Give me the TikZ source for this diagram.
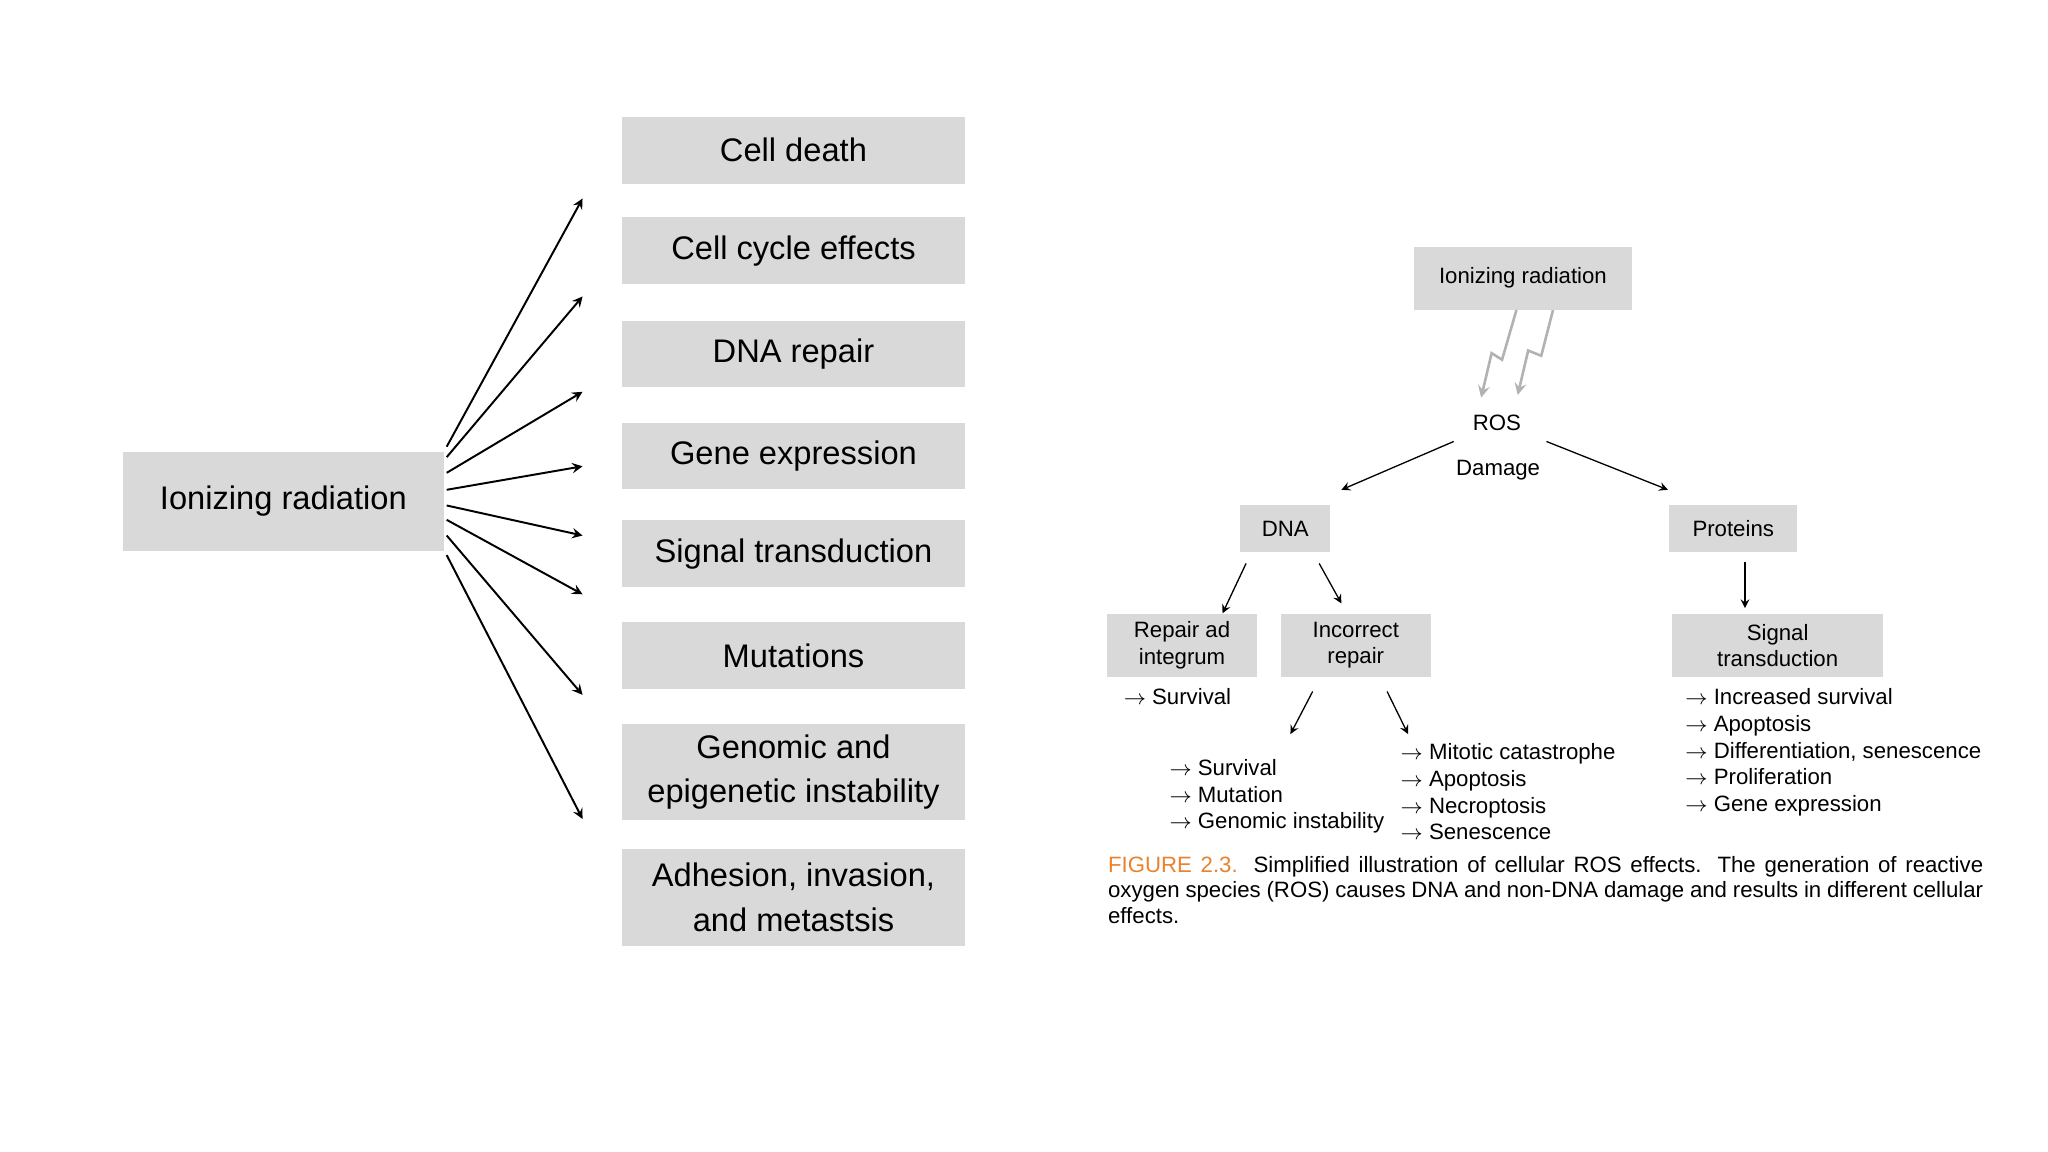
\documentclass[tikz,border=0pt]{standalone}
\usepackage{fontspec}
\setmainfont{Liberation Sans}
\usepackage{xcolor}
\usetikzlibrary{arrows, positioning}
\definecolor{boxgray}{HTML}{D9D9D9}
\definecolor{figorange}{HTML}{E8822E}

\begin{document}
\begin{tikzpicture}[
    x=0.5pt, y=-0.5pt,
    bigbox/.style={rectangle, fill=boxgray, inner sep=0pt, minimum width=131.5pt, minimum height=25.5pt, align=center, font=\fontsize{12.5}{17}\selectfont},
    smallbox/.style={rectangle, fill=boxgray, inner sep=0pt, minimum height=24pt, align=center, font=\fontsize{8.5}{10}\selectfont},
    txt/.style={inner sep=0pt, font=\fontsize{8.5}{10.2}\selectfont},
    list/.style={txt, anchor=north west, align=left},
    arrow/.style={->, >=stealth, line width=0.75pt},
    thin arrow/.style={->, >=stealth, line width=0.5pt},
    bolt/.style={->, >=stealth, draw=gray!60, line width=1pt}
]
\useasboundingbox (0,0) rectangle (1568,882);

% Left diagram
\node[bigbox, minimum width=123pt, minimum height=38pt] (ir) at (217,384) {Ionizing radiation};
\node[bigbox] (death) at (607.5,115) {Cell death};
\node[bigbox] (cycle) at (607.5,192) {Cell cycle effects};
\node[bigbox] (repair) at (607.5,271) {DNA repair};
\node[bigbox] (gene) at (607.5,349) {Gene expression};
\node[bigbox] (signal) at (607.5,424) {Signal transduction};
\node[bigbox] (mut) at (607.5,502) {Mutations};
\node[bigbox, minimum height=37pt] (genomic) at (607.5,591) {Genomic and\\epigenetic instability};
\node[bigbox, minimum height=37pt] (adhesion) at (607.5,687) {Adhesion, invasion,\\and metastsis};

\foreach \i/\ys/\ye in {1/342/152, 2/350/227, 3/362/300, 4/375/357, 5/387/410, 6/398/455, 7/410/532, 8/425/627} {
    \coordinate (t\i) at (446,\ye);
    \draw[arrow] (340+2*\i/\i,\ys) -- (t\i);
}

% Right diagram
\node[smallbox, minimum width=83.5pt] (rir) at (1166,213) {Ionizing radiation};
\node[txt] (ros) at (1146,324) {ROS};
\node[txt] (damage) at (1147,360) {Damage};
\node[smallbox, minimum width=34.5pt, minimum height=18pt] (dna) at (984,405) {DNA};
\node[smallbox, minimum width=49pt, minimum height=18pt] (prot) at (1327,405) {Proteins};
\node[smallbox, minimum width=57.5pt] (rai) at (905,494) {Repair ad\\integrum};
\node[smallbox, minimum width=57.5pt] (inc) at (1038,494) {Incorrect\\repair};
\node[smallbox, minimum width=81pt] (sig) at (1361,494) {Signal\\transduction};

% Lightning arrows
\draw[bolt] ([xshift=-2.5pt]rir.south) -- ++(-11,38) -- ++(-8,-5) -- ++(-8,34);
\draw[bolt] ([xshift=11.5pt]rir.south) -- ++(-9,35) -- ++(-10,-4) -- ++(-8,34);

\coordinate (dl) at (1027,375);
\coordinate (dr) at (1277,375);
\draw[thin arrow] (1113,338) -- (dl);
\draw[thin arrow] (1184,338) -- (dr);
\draw[thin arrow] ([xshift=-15pt,yshift=-4pt]dna.south) -- (rai.north east -| 936,462);
\draw[thin arrow] ([xshift=13pt,yshift=-4pt]dna.south) -- (1027,462);
\draw[thin arrow] ([xshift=4.5pt,yshift=-3.5pt]prot.south) -- ([yshift=2pt]sig.north -| 1336,0);
\coordinate (il) at (988,562);
\coordinate (ir2) at (1078,562);
\draw[thin arrow] ([xshift=-16.5pt,yshift=-5.5pt]inc.south) -- (il);
\draw[thin arrow] ([xshift=12pt,yshift=-5.5pt]inc.south) -- (ir2);

\node[list] (surv) at (860,527) {$\rightarrow$ Survival};
\node[list] (lista) at (895,581) {$\rightarrow$ Survival\\$\rightarrow$ Mutation\\$\rightarrow$ Genomic instability};
\node[list] (listb) at (1072,569) {$\rightarrow$ Mitotic catastrophe\\$\rightarrow$ Apoptosis\\$\rightarrow$ Necroptosis\\$\rightarrow$ Senescence};
\node[list] (listc) at (1290,527) {$\rightarrow$ Increased survival\\$\rightarrow$ Apoptosis\\$\rightarrow$ Differentiation, senescence\\$\rightarrow$ Proliferation\\$\rightarrow$ Gene expression};

% Caption
\node[list, text width=335pt, align=justify, font=\fontsize{8.5}{9.9}\selectfont] (cap) at (848,655)
  {{\color{figorange}FIGURE 2.3.} Simplified illustration of cellular ROS effects. The generation of reactive oxygen species (ROS) causes DNA and non-DNA damage and results in different cellular effects.};
\end{tikzpicture}
\end{document}
